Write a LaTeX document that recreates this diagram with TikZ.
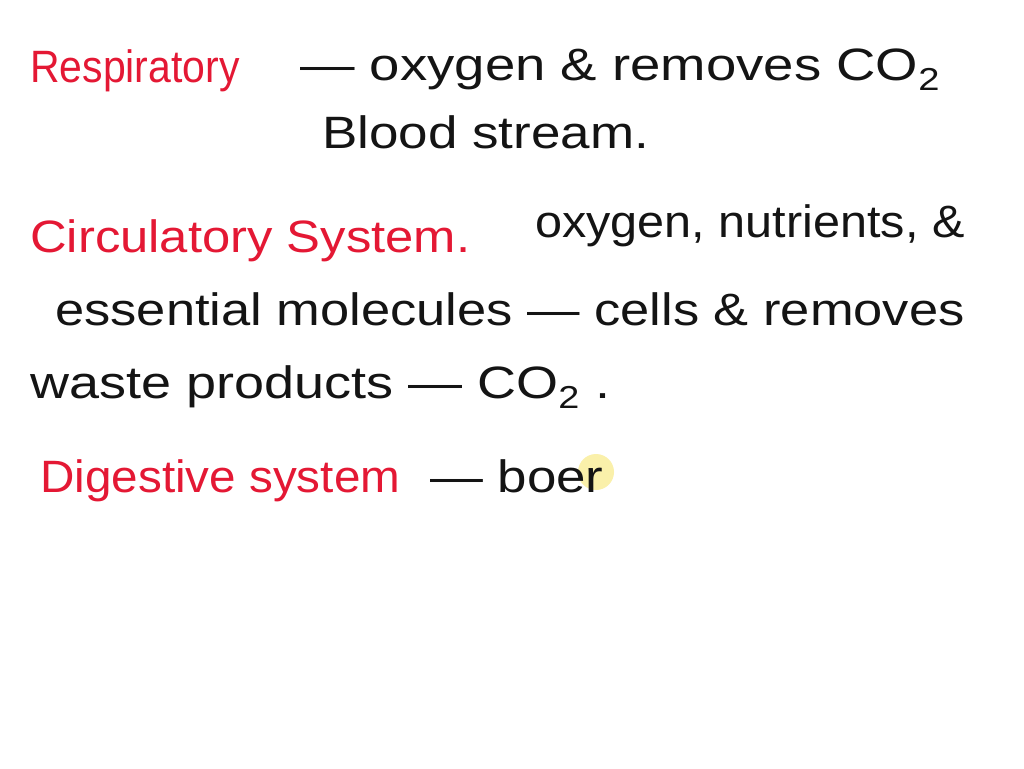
\documentclass[tikz,border=0pt]{standalone}
\usepackage{fontspec}
\setmainfont{Liberation Sans}
\usepackage{graphicx}
\definecolor{inkred}{RGB}{228,24,52}
\definecolor{inkblack}{RGB}{20,20,20}
\definecolor{hilite}{RGB}{250,240,170}
\newcommand\fitw[2]{\resizebox{#1}{\height}{#2}}
\begin{document}
\begin{tikzpicture}[x=0.75pt,y=-0.75pt,
  red/.style={anchor=base west,inner sep=0,text=inkred,font=\fontsize{34}{40}\selectfont},
  blk/.style={anchor=base west,inner sep=0,text=inkblack,font=\fontsize{34}{40}\selectfont}]
\useasboundingbox[fill=white] (0,0) rectangle (1024,768);
\fill[hilite] (596,472) circle (18);
\node[red] (r1) at (30,82) {\fitw{157pt}{Respiratory}};
\node[blk] (r2) at (300,80) {\fitw{480pt}{— oxygen \& removes CO\textsubscript{2}}};
\node[blk] (r3) at (322,148) {\fitw{245pt}{Blood stream.}};
\node[red] (c1) at (30,252) {\fitw{330pt}{Circulatory System.}};
\node[blk] (c2) at (535,237) {\fitw{322pt}{oxygen, nutrients, \&}};
\node[blk] (c3) at (55,325) {\fitw{682pt}{essential molecules — cells \& removes}};
\node[blk] (c4) at (30,398) {\fitw{435pt}{waste products — CO\textsubscript{2} .}};
\node[red] (d1) at (40,492) {\fitw{270pt}{Digestive system}};
\node[blk] (d2) at (430,492) {\fitw{130pt}{— boer}};
\end{tikzpicture}
\end{document}
